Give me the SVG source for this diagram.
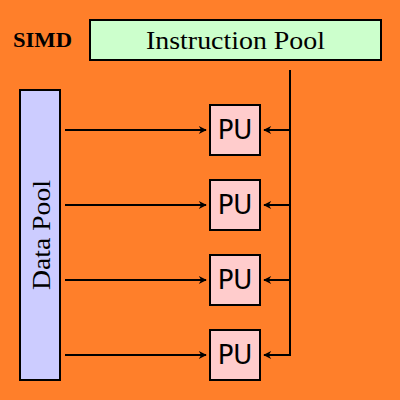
<svg xmlns="http://www.w3.org/2000/svg" width="400" height="400" viewBox="0 0 400 400">
<style>
.box{stroke:#000;stroke-width:2}
.serif{font-family:"Liberation Serif","DejaVu Serif",serif;fill:#000}
.pu{font-family:"DejaVu Sans","Liberation Sans",sans-serif;font-size:26px;text-anchor:middle;fill:#000}
.ln{stroke:#000;stroke-width:2;fill:none}
</style>
<defs>
<marker id="ah" viewBox="0 0 10 10" refX="9" refY="5" markerWidth="9" markerHeight="8" orient="auto" markerUnits="userSpaceOnUse">
<path d="M0,0 L10,5 L0,10 L3,5 Z" fill="#000"/>
</marker>
</defs>
<rect width="400" height="400" fill="#FF7F2A"/>
<text class="serif" x="13" y="47" font-size="20" font-weight="bold" textLength="59" lengthAdjust="spacingAndGlyphs">SIMD</text>
<g id="instruction-pool">
<rect class="box" x="90" y="20" width="291" height="40" fill="#CCFFCC"/>
<text class="serif" x="146" y="49" font-size="26" textLength="179" lengthAdjust="spacingAndGlyphs">Instruction Pool</text>
</g>
<g id="data-pool">
<rect class="box" x="20" y="90" width="40" height="290" fill="#CCCCFF"/>
<text class="serif" x="-55" y="0" font-size="26" textLength="110" lengthAdjust="spacingAndGlyphs" transform="translate(50,235) rotate(-90)">Data Pool</text>
</g>
<g id="pu1"><rect class="box" x="210" y="105" width="50" height="50" fill="#FFCCCC"/><text class="pu" x="235" y="139">PU</text></g>
<g id="pu2"><rect class="box" x="210" y="180" width="50" height="50" fill="#FFCCCC"/><text class="pu" x="235" y="214">PU</text></g>
<g id="pu3"><rect class="box" x="210" y="255" width="50" height="50" fill="#FFCCCC"/><text class="pu" x="235" y="289">PU</text></g>
<g id="pu4"><rect class="box" x="210" y="330" width="50" height="50" fill="#FFCCCC"/><text class="pu" x="235" y="364">PU</text></g>
<g id="connectors">
<line class="ln" x1="65" y1="130" x2="206" y2="130" marker-end="url(#ah)"/>
<line class="ln" x1="65" y1="205" x2="206" y2="205" marker-end="url(#ah)"/>
<line class="ln" x1="65" y1="280" x2="206" y2="280" marker-end="url(#ah)"/>
<line class="ln" x1="65" y1="355" x2="206" y2="355" marker-end="url(#ah)"/>
<path class="ln" d="M290,70 V355"/>
<line class="ln" x1="290" y1="130" x2="264" y2="130" marker-end="url(#ah)"/>
<line class="ln" x1="290" y1="205" x2="264" y2="205" marker-end="url(#ah)"/>
<line class="ln" x1="290" y1="280" x2="264" y2="280" marker-end="url(#ah)"/>
<path class="ln" d="M290,354 V355 H264" marker-end="url(#ah)"/>
</g>
</svg>
